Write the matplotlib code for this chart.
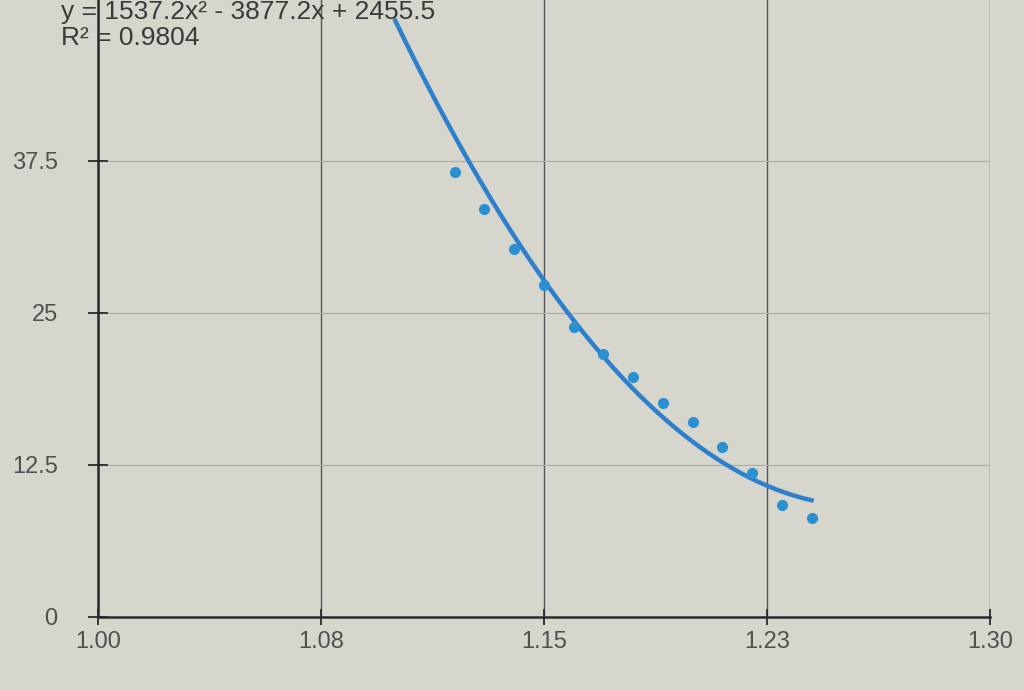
import numpy as np
import matplotlib.pyplot as plt

plt.rcParams['font.family'] = ['Liberation Sans', 'DejaVu Sans']

# data; the first point sits above the cropped top edge
x_vals = [1.10, 1.12, 1.13, 1.14, 1.15, 1.16, 1.17, 1.18, 1.19, 1.20, 1.21, 1.22, 1.23, 1.24]
y_vals = [52.5, 36.6, 33.5, 30.2, 27.3, 23.8, 21.6, 19.7, 17.6, 16.0, 14.0, 11.8, 9.2, 8.1]

x_ticks = [1.00, 1.075, 1.15, 1.225, 1.30]
x_labels = ['1.00', '1.08', '1.15', '1.23', '1.30']
y_ticks = [0, 12.5, 25, 37.5]
y_labels = ['0', '12.5', '25', '37.5']

eq_text = 'y = 1537.2x² - 3877.2x + 2455.5'
r2_text = 'R² = 0.9804'

bg = '#d7d6cd'
fig = plt.figure(figsize=(10.24, 6.9), dpi=100, facecolor=bg)
ax = fig.add_axes([0.0957, 0.106, 0.871, 0.894])
ax.set_facecolor(bg)

# polynomial trendline (order 2)
coef = np.polyfit(x_vals, y_vals, 2)
xs = np.linspace(min(x_vals), max(x_vals), 200)
ax.plot(xs, np.polyval(coef, xs), color='#2f80cc', lw=3.2, zorder=3)
ax.plot(x_vals, y_vals, 'o', color='#2a90d2', ms=7, zorder=4)

ax.set_xlim(1.0, 1.30)
ax.set_ylim(0, 50.7)
ax.set_xticks(x_ticks)
ax.set_xticklabels(x_labels)
ax.set_yticks(y_ticks)
ax.set_yticklabels(y_labels)

ax.grid(axis='x', color='#55555a', lw=1.0, zorder=1)
ax.grid(axis='y', color='#acaca6', lw=0.8, zorder=1)

for s in ['top', 'right']:
    ax.spines[s].set_visible(False)
for s in ['left', 'bottom']:
    ax.spines[s].set_color('#2a2a2e')
    ax.spines[s].set_linewidth(1.8)

ax.tick_params(axis='x', direction='inout', length=12, width=1.3, color='#2a2a2e',
               labelsize=17, labelcolor='#505050', pad=4)
ax.tick_params(axis='y', direction='inout', length=14, width=1.3, color='#2a2a2e',
               labelsize=17, labelcolor='#505050', pad=22)

fig.text(0.06, 0.982, eq_text, fontsize=19, color='#3a3a3a', va='center', ha='left')
fig.text(0.06, 0.945, r2_text, fontsize=19, color='#3a3a3a', va='center', ha='left')

fig.savefig('out.png', dpi=100, facecolor=bg)
